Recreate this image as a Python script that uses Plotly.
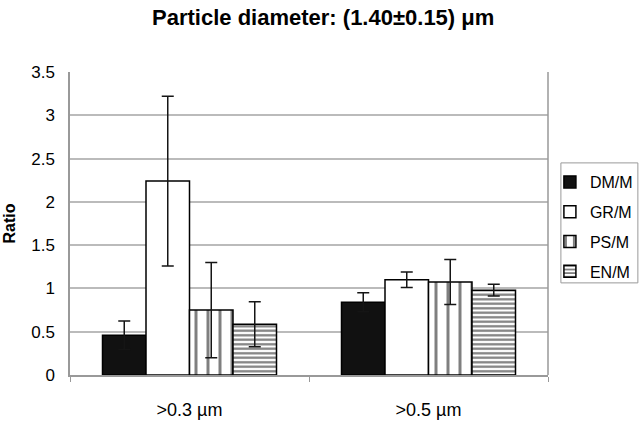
import plotly.graph_objects as go

categories = [">0.3 µm", ">0.5 µm"]
series_names = ["DM/M", "GR/M", "PS/M", "EN/M"]
dm_vals = [0.46, 0.84]
gr_vals = [2.24, 1.10]
ps_vals = [0.75, 1.075]
en_vals = [0.585, 0.98]
dm_err = [0.165, 0.11]
gr_err = [0.98, 0.09]
ps_err = [0.55, 0.26]
en_err = [0.26, 0.068]
y_ticks = [0, 0.5, 1, 1.5, 2, 2.5, 3, 3.5]
y_tick_labels = ["0", "0.5", "1", "1.5", "2", "2.5", "3", "3.5"]

values = [dm_vals, gr_vals, ps_vals, en_vals]
errors = [dm_err, gr_err, ps_err, en_err]
fills = ["#111111", "white", "white", "white"]
patterns = [
    dict(shape=""),
    dict(shape=""),
    dict(shape="|", fgcolor="black", bgcolor="white", size=12, solidity=0.25, fillmode="overlay"),
    dict(shape="-", fgcolor="black", bgcolor="white", size=4.5, solidity=0.5, fillmode="overlay"),
]

fig = go.Figure()
for name, v, e, f, p in zip(series_names, values, errors, fills, patterns):
    fig.add_trace(go.Bar(
        name=name, x=categories, y=v, legendgroup=name,
        marker=dict(color=f, line=dict(color="black", width=1.5), pattern=p),
        error_y=dict(type="data", array=e, visible=True, color="#151515", thickness=1.5, width=6),
    ))

fig.update_layout(
    width=640, height=422,
    margin=dict(l=70, r=92, t=72, b=47, autoexpand=False),
    paper_bgcolor="white", plot_bgcolor="white",
    barmode="group", bargap=0.272, bargroupgap=0,
    font=dict(family="Arial, Liberation Sans, sans-serif", color="black", size=17),
    title=dict(text="<b>Particle diameter: (1.40±0.15) μm</b>", x=0.505, xanchor="center",
               y=0.958, yanchor="middle", font=dict(size=22)),
    showlegend=True,
    legend=dict(x=1.004, xanchor="left", y=0.693, yanchor="top",
                borderwidth=0, bgcolor="rgba(0,0,0,0)", font=dict(size=16),
                traceorder="grouped", tracegroupgap=6, itemwidth=30),
)
fig.update_yaxes(
    range=[0, 3.5], tickvals=y_ticks, ticktext=y_tick_labels,
    showgrid=True, gridcolor="#bbbbbb", gridwidth=1.5,
    showline=True, linecolor="#999999", linewidth=1.5,
    ticks="", ticklabelstandoff=10, zeroline=False,
    title=dict(text="<b>Ratio</b>", font=dict(size=16), standoff=12),
)
fig.update_xaxes(
    showline=True, linecolor="#999999", linewidth=1.5, mirror=False,
    ticks="outside", tickson="boundaries", ticklen=5, tickcolor="#999999",
    ticklabelstandoff=18, tickfont=dict(size=18),
)
# right border of plot area
fig.add_shape(type="line", xref="paper", yref="paper", x0=1, x1=1, y0=0, y1=1,
              line=dict(color="#999999", width=1.5))
# legend frame
fig.add_shape(type="rect", xref="paper", yref="paper", x0=1.027, x1=1.188, y0=0.304, y1=0.70,
              line=dict(color="#999999", width=1))

fig.write_html("out.html")
